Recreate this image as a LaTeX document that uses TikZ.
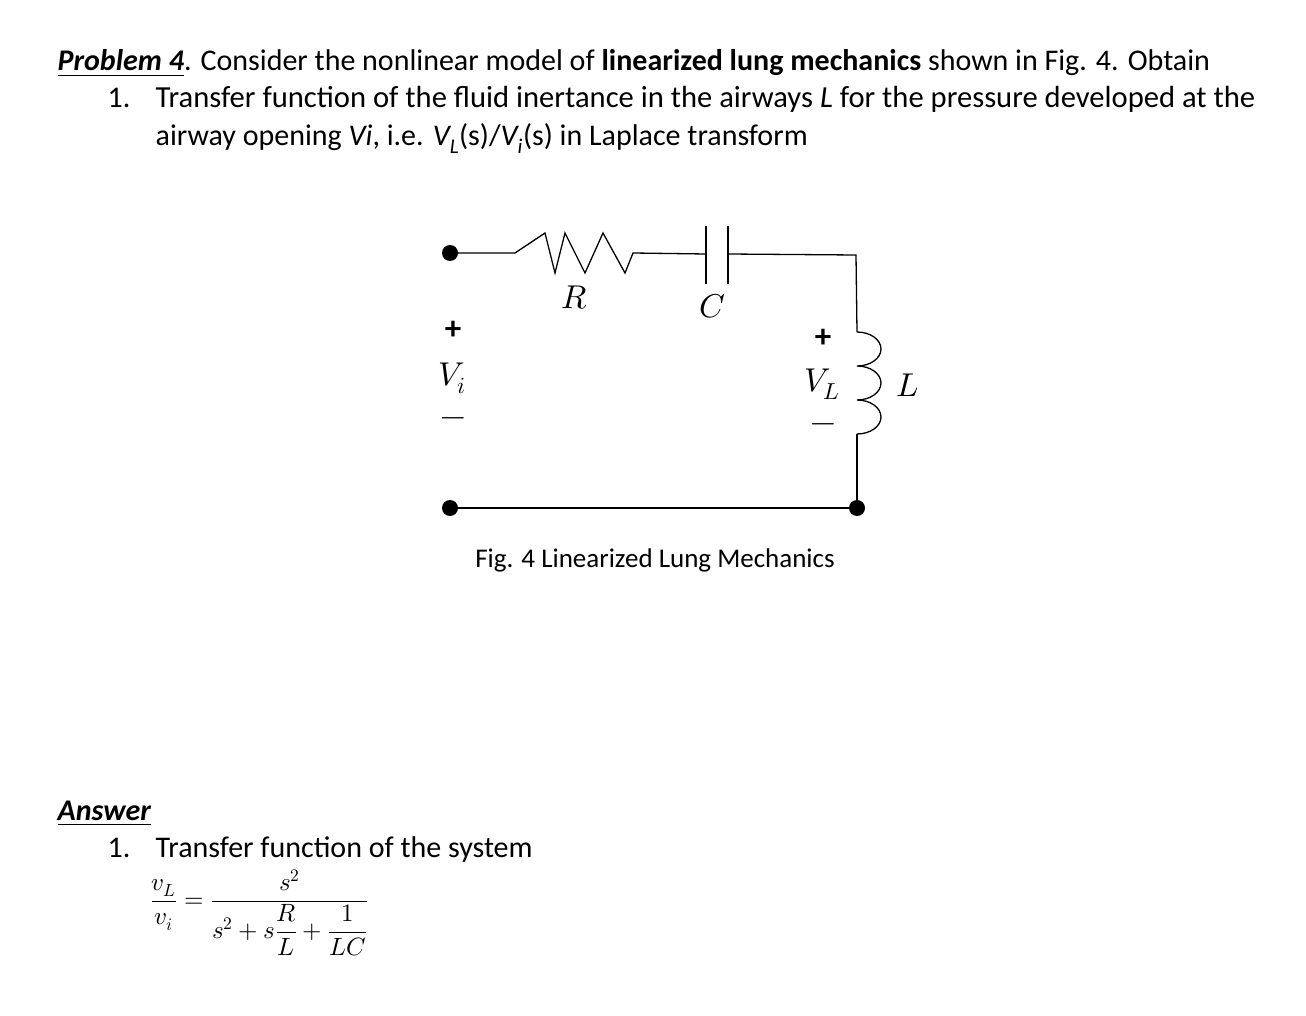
\documentclass[tikz,border=0pt]{standalone}
\usepackage{fontspec}
\usepackage{unicode-math}
\setmathfont{Latin Modern Math}
\setmainfont{Carlito}
\begin{document}
\begin{tikzpicture}[x=1pt,y=-1pt,line width=1.3pt,
  txt/.style={anchor=base west,inner sep=0,font=\fontsize{30}{34}\selectfont},
  lbl/.style={inner sep=0,font=\fontsize{33}{36}\selectfont},
  dotn/.style={circle,fill,inner sep=0,minimum size=16}]
\useasboundingbox (0,0) rectangle (1306,1016);
\node[txt] (t1) at (57,71) {\underline{\textbf{\textit{Problem 4}}}. Consider the nonlinear model of \textbf{linearized lung mechanics} shown in Fig. 4. Obtain};
\node[txt] (t2) at (107,108) {1.};
\node[txt,font=\fontsize{30.6}{34}\selectfont] (t3) at (155,108) {Transfer function of the fluid inertance in the airways \textit{L} for the pressure developed at the};
\node[txt] (t4) at (155,146) {airway opening \textit{Vi}, i.e. \textit{V\textsubscript{L}}(s)/\textit{V\textsubscript{i}}(s) in Laplace transform};
% circuit
\node[dotn] (a) at (450,253) {};
\node[dotn] (b) at (450,508) {};
\node[dotn] (d) at (857,508) {};
\coordinate (r1) at (515,253);
\coordinate (c1) at (706,254);
\coordinate (c2) at (728,254);
\coordinate (tr) at (856,255);
\coordinate (l1) at (857,332);
\coordinate (l2) at (857,434);
\draw (a.center) -- (r1) -- (545,233) -- (555,273) -- (565,233) -- (585,273) -- (603,233) -- (625,273) -- (633,253) -- (c1);
\draw (706,226) -- (706,284) (728,226) -- (728,284);
\draw (c2) -- (tr) -- (l1);
\draw (l1) arc (-90:90:24 and 17) arc (-90:90:24 and 17) arc (-90:90:24 and 17);
\draw (l2) -- (d.center) -- (b.center);
\node[lbl] (R) at (574,298) {$R$};
\node[lbl] (C) at (712,306) {$C$};
\node[lbl] (p1) at (453,330) {\textbf{+}};
\node[lbl] (Vi) at (452,378) {$V_i$};
\node[lbl] (m1) at (453,422) {$-$};
\node[lbl] (p2) at (823,338) {\textbf{+}};
\node[lbl] (VL) at (822,384) {$V_L$};
\node[lbl] (m2) at (823,428) {$-$};
\node[lbl] (L) at (908,385) {$L$};
\node[txt,anchor=center,font=\fontsize{27}{30}\selectfont] (cap) at (655,560) {Fig. 4 Linearized Lung Mechanics};
% answer
\node[txt] (ans) at (57,820) {\underline{\textbf{\textit{Answer}}}};
\node[txt] (n1) at (107,857) {1.};
\node[txt] (n2) at (155,857) {Transfer function of the system};
\node[inner sep=0,anchor=west,font=\fontsize{25}{30}\selectfont] (eq) at (150,913) {$\displaystyle \frac{v_L}{v_i}=\frac{s^2}{\displaystyle s^2+s\frac{R}{L}+\frac{1}{LC}}$};
\end{tikzpicture}
\end{document}
